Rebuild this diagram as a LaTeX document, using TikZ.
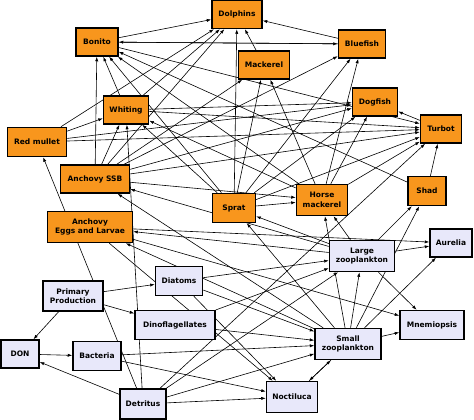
\documentclass[tikz,border=0pt]{standalone}
\usepackage{fontspec}
\setmainfont{DejaVu Sans}
\usetikzlibrary{arrows.meta}
\usetikzlibrary{backgrounds}
\definecolor{fishorange}{RGB}{248,150,29}
\definecolor{planklav}{RGB}{232,232,250}

\begin{document}
\begin{tikzpicture}[x=1pt,y=-1pt,
	box/.style={draw, line width=1.5pt, inner sep=0pt, align=center,
		font=\fontsize{7.5}{9.5}\selectfont\bfseries},
	fish/.style={box, fill=fishorange},
	plank/.style={box, fill=planklav},
	flow/.style={-{Latex[length=4.5pt,width=3.2pt]}, line width=0.6pt}]
	\useasboundingbox (0,0) rectangle (474,420);
	% fish
	\node[fish, minimum width=50pt, minimum height=28pt] (dolphins) at (237,14.5) {Dolphins};
	\node[fish, minimum width=42pt, minimum height=28pt] (bonito) at (97,42) {Bonito};
	\node[fish, minimum width=47pt, minimum height=28pt] (bluefish) at (362,44) {Bluefish};
	\node[fish, minimum width=51pt, minimum height=28pt] (mackerel) at (264,65) {Mackerel};
	\node[fish, minimum width=45pt, minimum height=28pt] (whiting) at (126,110) {Whiting};
	\node[fish, minimum width=45pt, minimum height=28pt] (dogfish) at (375,102) {Dogfish};
	\node[fish, minimum width=41pt, minimum height=28pt] (turbot) at (441,129) {Turbot};
	\node[fish, minimum width=59pt, minimum height=29pt] (redmullet) at (37,142) {Red mullet};
	\node[fish, minimum width=69pt, minimum height=28pt] (anchovyssb) at (95,179) {Anchovy SSB};
	\node[fish, minimum width=43pt, minimum height=29pt] (sprat) at (234,208) {Sprat};
	\node[fish, minimum width=51pt, minimum height=31pt] (horsemackerel) at (322,200) {Horse\\mackerel};
	\node[fish, minimum width=38pt, minimum height=29pt] (shad) at (427,191) {Shad};
	\node[fish, minimum width=85pt, minimum height=31pt] (eggs) at (90,227) {Anchovy\\Eggs and Larvae};
	% plankton and the rest
	\node[plank, minimum width=42pt, minimum height=28pt] (aurelia) at (451,243) {Aurelia};
	\node[plank, minimum width=65pt, minimum height=31pt] (largezoo) at (362,256) {Large\\zooplankton};
	\node[plank, minimum width=47pt, minimum height=29pt] (diatoms) at (179,281) {Diatoms};
	\node[plank, minimum width=60pt, minimum height=30pt] (primprod) at (73,296) {Primary\\Production};
	\node[plank, minimum width=80pt, minimum height=29pt] (dinoflag) at (175,325) {Dinoflagellates};
	\node[plank, minimum width=64pt, minimum height=29pt] (mnemiopsis) at (432,325) {Mnemiopsis};
	\node[plank, minimum width=66pt, minimum height=31pt] (smallzoo) at (348,344) {Small\\zooplankton};
	\node[plank, minimum width=38pt, minimum height=28pt] (don) at (20,354) {DON};
	\node[plank, minimum width=48pt, minimum height=29pt] (bacteria) at (97,356) {Bacteria};
	\node[plank, minimum width=46pt, minimum height=30pt] (detritus) at (143,404) {Detritus};
	\node[plank, minimum width=51pt, minimum height=31pt] (noctiluca) at (292,397) {Noctiluca};
	% flows, prey to predator
	\begin{pgfonlayer}{background}
	\foreach \a/\b in {bonito/dolphins, bluefish/dolphins, mackerel/dolphins, sprat/dolphins,
		whiting/dolphins, redmullet/dolphins, anchovyssb/dolphins,
		bluefish/bonito, anchovyssb/bonito, whiting/bonito, sprat/bonito, horsemackerel/bonito, shad/bonito,
		bonito/bluefish, anchovyssb/bluefish, sprat/bluefish, horsemackerel/bluefish,
		anchovyssb/mackerel, sprat/mackerel, horsemackerel/mackerel,
		redmullet/whiting, anchovyssb/whiting, detritus/whiting, sprat/whiting, horsemackerel/whiting,
		whiting/dogfish, redmullet/dogfish, anchovyssb/dogfish, sprat/dogfish, horsemackerel/dogfish, turbot/dogfish,
		whiting/turbot, redmullet/turbot, anchovyssb/turbot, bonito/turbot, sprat/turbot,
		horsemackerel/turbot, shad/turbot, detritus/turbot,
		detritus/redmullet, largezoo/anchovyssb, smallzoo/anchovyssb,
		largezoo/sprat, smallzoo/sprat,
		sprat/horsemackerel, anchovyssb/horsemackerel, largezoo/horsemackerel, smallzoo/horsemackerel,
		largezoo/shad, smallzoo/shad, largezoo/eggs, smallzoo/eggs,
		eggs/aurelia, largezoo/aurelia, smallzoo/aurelia,
		diatoms/largezoo, dinoflag/largezoo, smallzoo/largezoo, detritus/largezoo,
		eggs/mnemiopsis, largezoo/mnemiopsis, smallzoo/mnemiopsis,
		diatoms/smallzoo, dinoflag/smallzoo, bacteria/smallzoo, detritus/smallzoo, noctiluca/smallzoo,
		eggs/noctiluca, diatoms/noctiluca, bacteria/noctiluca, detritus/noctiluca, smallzoo/noctiluca,
		primprod/diatoms, primprod/dinoflag, primprod/don, detritus/don, don/bacteria}
		\draw[flow] (\a) -- (\b);
	\end{pgfonlayer}
\end{tikzpicture}
\end{document}
